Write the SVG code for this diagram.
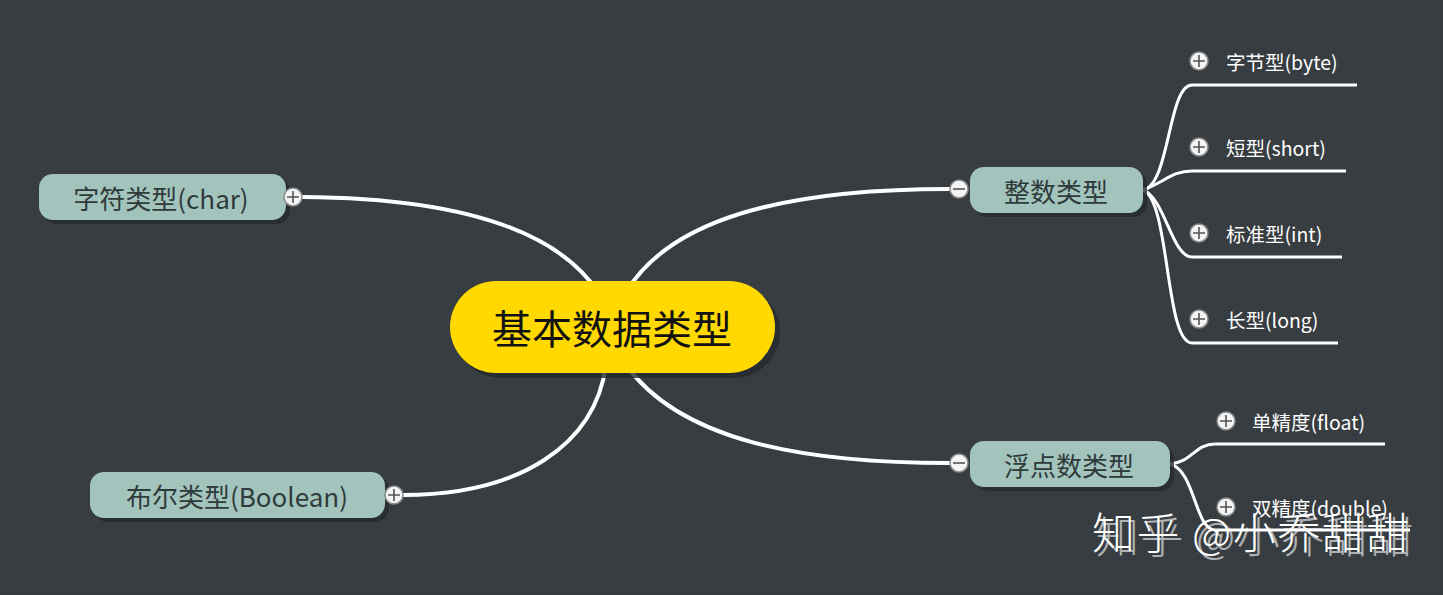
<svg xmlns="http://www.w3.org/2000/svg" width="1443" height="595" viewBox="0 0 1443 595">
<defs>
<pattern id="dots" width="4" height="4" patternUnits="userSpaceOnUse">
<rect width="4" height="4" fill="#363c40"/>
<rect x="1" y="1" width="1" height="1" fill="#3f4549"/>
</pattern>
<g id="plus">
<circle r="9" fill="#f4f4f4" stroke="#8a8a8a" stroke-width="1.5"/>
<path d="M-6 0H6M0 -6V6" stroke="#555" stroke-width="1.6"/>
</g>
<g id="minus">
<circle r="9" fill="#f4f4f4" stroke="#8a8a8a" stroke-width="1.5"/>
<path d="M-6 0H6" stroke="#555" stroke-width="1.6"/>
</g>
</defs>
<style>
.conn{fill:none;stroke:#ffffff;stroke-width:4;stroke-linecap:round}
.sub{fill:none;stroke:#ffffff;stroke-width:3;stroke-linecap:butt}
.node{fill:#a3c4bd}
.shadow{fill:#24292c;opacity:0.8}
.t{font-family:"Noto Sans CJK SC","Noto Sans",sans-serif;text-anchor:middle;dominant-baseline:central}
.nt{font-size:26px;fill:#2f3b3b}
.ct{font-size:19.5px;fill:#ffffff;text-anchor:start}
.wm{font-family:"Noto Sans CJK SC",sans-serif;font-size:43px;font-weight:300;fill:#ffffff;letter-spacing:1.5px}
</style>
<rect width="1443" height="595" fill="url(#dots)"/>
<g id="connectors">
<path class="conn" d="M302 197 C470 198 560 235 598 292"/>
<path class="conn" d="M950 189 C780 189 670 220 626 292"/>
<path class="conn" d="M626 365 C680 440 800 463 950 463"/>
<path class="conn" d="M403 495 C520 495 595 445 606 365"/>
<path class="sub" d="M1143 190 C1170 185 1168 85 1192 85 L1357 85"/>
<path class="sub" d="M1143 190 C1165 182 1172 171 1192 171 L1346 171"/>
<path class="sub" d="M1143 190 C1165 198 1172 257 1192 257 L1342 257"/>
<path class="sub" d="M1143 190 C1170 200 1165 343 1192 343 L1338 343"/>
<path class="sub" d="M1170 464 C1192 462 1195 444 1215 444 L1385 444"/>
<path class="sub" d="M1170 464 C1195 470 1195 530 1215 530 L1410 530"/>
</g>
<g id="root">
<rect class="shadow" x="455" y="286" width="325" height="92" rx="46"/>
<rect x="450" y="281" width="325" height="92" rx="46" fill="#ffd900"/>
<text class="t" x="612" y="327" font-size="40" fill="#111">基本数据类型</text>
</g>
<g id="char">
<rect class="shadow" x="43" y="178" width="247" height="46" rx="14"/>
<rect class="node" x="39" y="174" width="247" height="46" rx="14"/>
<text class="t nt" x="161" y="197">字符类型(char)</text>
<use href="#plus" x="293" y="197"/>
</g>
<g id="int">
<rect class="shadow" x="974" y="171" width="173" height="46" rx="14"/>
<rect class="node" x="970" y="167" width="173" height="46" rx="14"/>
<text class="t nt" x="1056" y="190">整数类型</text>
<use href="#minus" x="959" y="189"/>
</g>
<g id="float">
<rect class="shadow" x="974" y="445" width="200" height="46" rx="14"/>
<rect class="node" x="970" y="441" width="200" height="46" rx="14"/>
<text class="t nt" x="1069" y="464">浮点数类型</text>
<use href="#minus" x="959" y="463"/>
</g>
<g id="bool">
<rect class="shadow" x="94" y="476" width="295" height="46" rx="14"/>
<rect class="node" x="90" y="472" width="295" height="46" rx="14"/>
<text class="t nt" x="237" y="495">布尔类型(Boolean)</text>
<use href="#plus" x="394" y="495"/>
</g>
<g id="byte">
<use href="#plus" x="1199" y="61"/>
<text class="t ct" x="1226" y="61">字节型(byte)</text>
</g>
<g id="short">
<use href="#plus" x="1199" y="147"/>
<text class="t ct" x="1226" y="147">短型(short)</text>
</g>
<g id="intc">
<use href="#plus" x="1199" y="233"/>
<text class="t ct" x="1226" y="233">标准型(int)</text>
</g>
<g id="long">
<use href="#plus" x="1199" y="319"/>
<text class="t ct" x="1226" y="319">长型(long)</text>
</g>
<g id="floatc">
<use href="#plus" x="1226" y="421"/>
<text class="t ct" x="1252" y="421">单精度(float)</text>
</g>
<g id="double">
<use href="#plus" x="1226" y="507"/>
<text class="t ct" x="1252" y="507">双精度(double)</text>
</g>
<g id="watermark">
<text class="wm" x="1094" y="551" fill="#222" opacity="0.6" dx="2" dy="2">知乎 @小乔甜甜</text>
<text class="wm" x="1092" y="549">知乎 @小乔甜甜</text>
</g>
</svg>
